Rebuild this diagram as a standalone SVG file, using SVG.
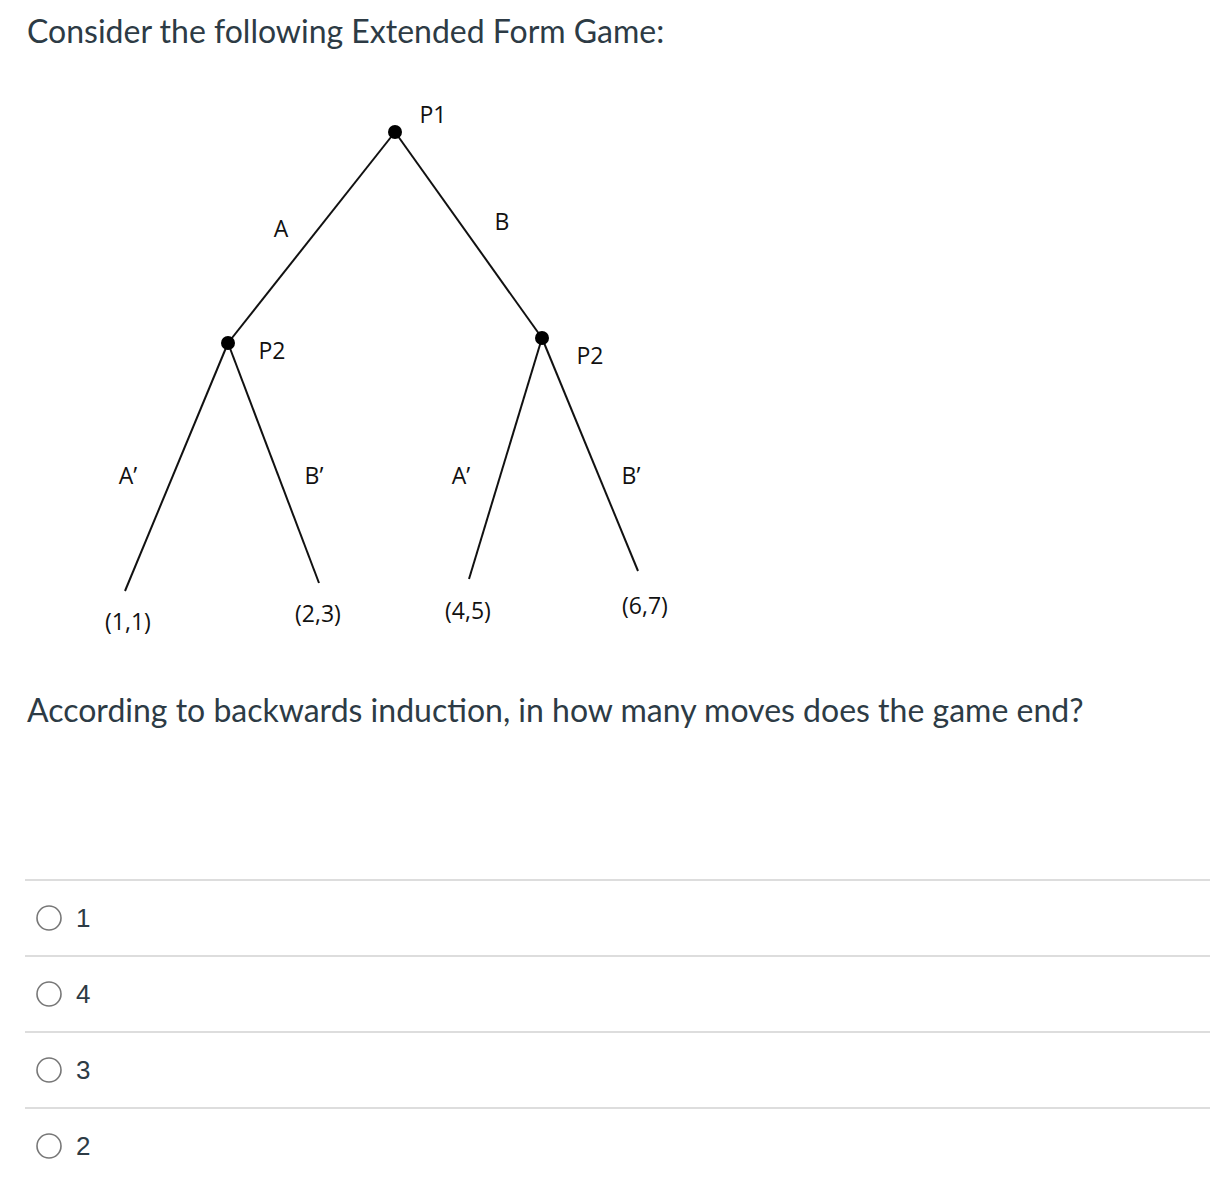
<svg xmlns="http://www.w3.org/2000/svg" width="1210" height="1178" viewBox="0 0 1210 1178">
<style>
.q{font-family:Lato,"Open Sans",sans-serif;font-size:32px;fill:#2d3b45}
.t{font-family:"Open Sans","Noto Sans",sans-serif;font-size:23px;fill:#111;text-anchor:middle}
.e{stroke:#111;stroke-width:2;fill:none}
.n{fill:#000}
.rule{stroke:#ddd;stroke-width:2}
.radio{fill:#fff;stroke:#777;stroke-width:1.6}
.o{font-family:"Liberation Sans",Arial,sans-serif;font-size:26px;fill:#2d3b45}
</style>
<rect width="1210" height="1178" fill="#fff"/>
<text class="q" x="27" y="43">Consider the following Extended Form Game:</text>
<g id="connectors">
<line class="e" x1="395" y1="132" x2="228" y2="343"/>
<line class="e" x1="395" y1="132" x2="542" y2="338"/>
<line class="e" x1="228" y1="343" x2="125" y2="591"/>
<line class="e" x1="228" y1="343" x2="319" y2="583"/>
<line class="e" x1="542" y1="338" x2="469" y2="579"/>
<line class="e" x1="542" y1="338" x2="638" y2="571"/>
</g>
<g id="edge-labels">
<text class="t" x="281" y="237">A</text>
<text class="t" x="502" y="230">B</text>
<text class="t" x="128" y="484">A’</text>
<text class="t" x="314" y="484">B’</text>
<text class="t" x="461" y="484">A’</text>
<text class="t" x="631" y="484">B’</text>
</g>
<g id="node-root"><circle class="n" cx="395" cy="132" r="7"/><text class="t" x="433" y="123">P1</text></g>
<g id="node-p2-left"><circle class="n" cx="228" cy="343" r="7"/><text class="t" x="272" y="359">P2</text></g>
<g id="node-p2-right"><circle class="n" cx="542" cy="338" r="7"/><text class="t" x="590" y="364">P2</text></g>
<g id="leaf-11"><text class="t" x="128" y="630">(1,1)</text></g>
<g id="leaf-23"><text class="t" x="318" y="622">(2,3)</text></g>
<g id="leaf-45"><text class="t" x="468" y="619">(4,5)</text></g>
<g id="leaf-67"><text class="t" x="645" y="614">(6,7)</text></g>
<text class="q" x="27" y="722">According to backwards induction, in how many moves does the game end?</text>
<g id="options">
<line class="rule" x1="25" y1="880" x2="1210" y2="880"/>
<line class="rule" x1="25" y1="956" x2="1210" y2="956"/>
<line class="rule" x1="25" y1="1032" x2="1210" y2="1032"/>
<line class="rule" x1="25" y1="1108" x2="1210" y2="1108"/>
<circle class="radio" cx="49" cy="918" r="12"/><text class="o" x="76" y="927">1</text>
<circle class="radio" cx="49" cy="994" r="12"/><text class="o" x="76" y="1003">4</text>
<circle class="radio" cx="49" cy="1070" r="12"/><text class="o" x="76" y="1079">3</text>
<circle class="radio" cx="49" cy="1146" r="12"/><text class="o" x="76" y="1155">2</text>
</g>
</svg>
